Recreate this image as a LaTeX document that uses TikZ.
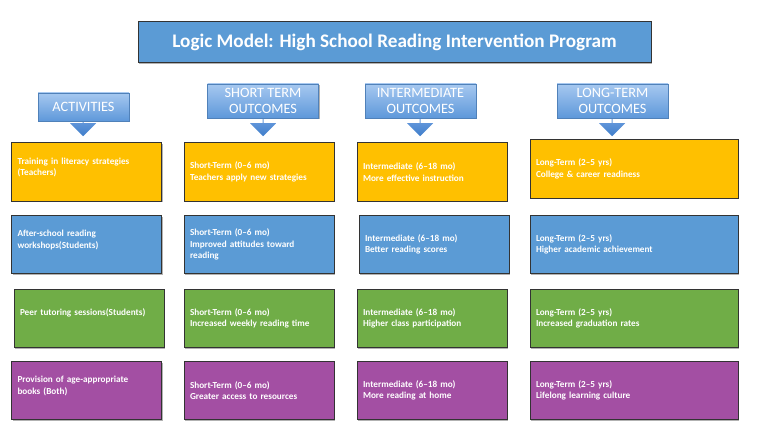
\documentclass[tikz,border=0pt]{standalone}
\usepackage{fontspec}
\setmainfont{Carlito}
\usetikzlibrary{shapes.arrows,shadows}

\definecolor{titleblue}{HTML}{5B9BD5}
\definecolor{headtop}{HTML}{A6C8F0}
\definecolor{headbot}{HTML}{5E98DA}
\definecolor{arrowtop}{HTML}{7EAAE6}
\definecolor{arrowbot}{HTML}{3F7ECB}
\definecolor{cellyellow}{HTML}{FFC000}
\definecolor{cellblue}{HTML}{5B9BD5}
\definecolor{cellgreen}{HTML}{70AD47}
\definecolor{cellpurple}{HTML}{A34FA3}
\definecolor{edgegray}{HTML}{333333}

\begin{document}
\begin{tikzpicture}
        [x=1pt,y=-1pt,
         softshadow/.style={drop shadow={shadow xshift=1.2pt,shadow yshift=-1.2pt,opacity=0.3,fill=black}},
         titlebox/.style={draw=edgegray,line width=1pt,fill=titleblue,text=white,minimum width=513pt,minimum height=41pt,
                          font=\fontsize{19.2}{22}\selectfont\bfseries,softshadow},
         head/.style={top color=headtop,bottom color=headbot,draw=headbot!85!black,line width=0.5pt,text=white,align=center,
                      minimum width=111pt,minimum height=34pt,inner sep=0,font=\fontsize{14.3}{16.5}\selectfont,softshadow},
         downarrow/.style={single arrow,shape border rotate=270,top color=arrowtop,bottom color=arrowbot,draw=none,
                           minimum width=26pt,minimum height=26pt,single arrow head extend=5pt,inner sep=0},
         cell/.style={draw=edgegray,line width=1pt,text=white,align=left,text width=138pt,inner xsep=6pt,inner ysep=2pt,
                      minimum height=58pt,font=\fontsize{9.2}{11.3}\selectfont\bfseries,softshadow},
         widecell/.style={cell,text width=196pt},
         actcell/.style={cell,text depth=22pt}]

        \path[use as bounding box,fill=white] (0,0) rectangle (768,433);

        \node[titlebox] (title) at (394.5,42.5) {Logic Model: High School Reading Intervention Program};

        \node[downarrow] (aact) at (83,123) {};
        \node[downarrow] (ast) at (263,123) {};
        \node[downarrow] (aim) at (420,123) {};
        \node[downarrow] (alt) at (612,123) {};

        \node[head,minimum width=91pt,minimum height=28pt] (hact) at (83.5,107) {ACTIVITIES};
        \node[head] (hst) at (263,101) {SHORT TERM\\OUTCOMES};
        \node[head] (him) at (420.5,101) {INTERMEDIATE\\OUTCOMES};
        \node[head] (hlt) at (612.5,101) {LONG-TERM\\OUTCOMES};

        \node[actcell,fill=cellyellow] (act1) at (86.5,172) {Training in literacy strategies\\(Teachers)};
        \node[cell,fill=cellyellow] (st1) at (259,172) {Short-Term (0--6 mo)\\Teachers apply new strategies};
        \node[cell,fill=cellyellow] (im1) at (432,172) {Intermediate (6--18 mo)\\More effective instruction};
        \node[widecell,fill=cellyellow] (lt1) at (634,169) {Long-Term (2--5 yrs)\\College \& career readiness};

        \node[actcell,fill=cellblue] (act2) at (86.5,244.5) {After-school reading\\workshops(Students)};
        \node[cell,fill=cellblue] (st2) at (259,244.5) {Short-Term (0--6 mo)\\Improved attitudes toward\\reading};
        \node[cell,fill=cellblue] (im2) at (434,244.5) {Intermediate (6--18 mo)\\Better reading scores};
        \node[widecell,fill=cellblue] (lt2) at (634,244.5) {Long-Term (2--5 yrs)\\Higher academic achievement};

        \node[actcell,text depth=13pt,fill=cellgreen] (act3) at (89,318.5) {Peer tutoring sessions(Students)};
        \node[cell,fill=cellgreen] (st3) at (259,318.5) {Short-Term (0--6 mo)\\Increased weekly reading time};
        \node[cell,fill=cellgreen] (im3) at (432,318.5) {Intermediate (6--18 mo)\\Higher class participation};
        \node[widecell,fill=cellgreen] (lt3) at (634,318.5) {Long-Term (2--5 yrs)\\Increased graduation rates};

        \node[actcell,fill=cellpurple] (act4) at (86.5,390.5) {Provision of age-appropriate\\books (Both)};
        \node[cell,fill=cellpurple] (st4) at (259,390.5) {Short-Term (0--6 mo)\\Greater access to resources};
        \node[cell,fill=cellpurple] (im4) at (432,390.5) {Intermediate (6--18 mo)\\More reading at home};
        \node[widecell,fill=cellpurple] (lt4) at (634,390.5) {Long-Term (2--5 yrs)\\Lifelong learning culture};
      \end{tikzpicture}
\end{document}
